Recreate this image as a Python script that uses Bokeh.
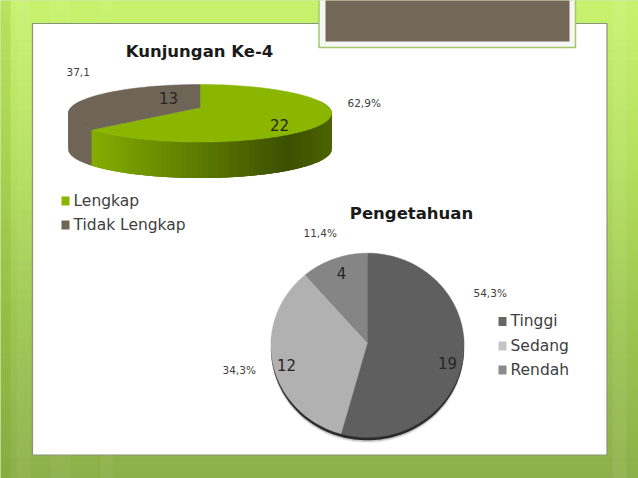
import math
from bokeh.plotting import figure
from bokeh.models import Range1d
from bokeh.core.properties import value
from bokeh.embed import file_html
from bokeh.resources import INLINE

# ---- data ----
title_1 = "Kunjungan Ke-4"
cats_1 = ["Lengkap", "Tidak Lengkap"]
vals_1 = [22, 13]
pct_1 = ["62,9%", "37,1"]

title_2 = "Pengetahuan"
cats_2 = ["Tinggi", "Sedang", "Rendah"]
vals_2 = [19, 12, 4]
pct_2 = ["54,3%", "34,3%", "11,4%"]

# ---- style / layout ----
FONT = "DejaVu Sans"
colors_1 = ["#8ab600", "#6f6557"]
colors_2 = ["#5f5f5f", "#b1b1b1", "#858585"]
legend_colors_2 = ["#666666", "#c4c4c4", "#8a8a8a"]


def mix(a, b, t):
    pa = [int(a[i:i + 2], 16) for i in (1, 3, 5)]
    pb = [int(b[i:i + 2], 16) for i in (1, 3, 5)]
    return "#%02x%02x%02x" % tuple(round(x + (y - x) * t) for x, y in zip(pa, pb))


p = figure(width=638, height=478, output_backend="svg", toolbar_location=None,
           x_range=Range1d(0, 638), y_range=Range1d(478, 0),
           min_border=0, outline_line_color=None)
p.axis.visible = False
p.grid.visible = False
p.background_fill_color = "#a8d05a"
p.border_fill_color = None

# slide background
n = 48
top = [i * 478 / n for i in range(n)]
bot = [t + 478 / n + 0.5 for t in top]
stops = ["#c8f26e", "#b4e05e", "#9cc650", "#8eb04a"]


def bg(t):
    t = t * 3
    i = min(int(t), 2)
    return mix(stops[i], stops[i + 1], t - i)


p.quad(left=0, right=638, top=top, bottom=bot,
       fill_color=[bg(i / (n - 1)) for i in range(n)], line_color=None)
p.quad(left=[16, 612, 50, 100], right=[30, 626, 70, 112], top=0, bottom=478,
       fill_color="#ffffff", fill_alpha=[0.06, 0.07, 0.04, 0.04], line_color=None)
p.quad(left=[0], right=[10], top=0, bottom=478, fill_color="#6f9a20", fill_alpha=0.18, line_color=None)

# white panel and header box
p.quad(left=32, right=606.5, top=23, bottom=454.5, fill_color="#ffffff",
       line_color="#8a9478", line_width=1.2)
p.quad(left=318.5, right=575, top=-2, bottom=47, fill_color="#f6f6f4",
       line_color="#a4c86a", line_width=1.5)
p.quad(left=325, right=569, top=-2, bottom=41, fill_color="#736858", line_color=None)


def project(theta, cx, cy, R, a, k):
    u, v = math.sin(theta), math.cos(theta)
    w = 1 + k * v
    return cx + R * u / w, cy - a * v / w


def slices(vals):
    total = sum(vals)
    acc, out = 0, []
    for v in vals:
        out.append((acc / total * 2 * math.pi, (acc + v) / total * 2 * math.pi))
        acc += v
    return out


# --- 3D pie ---
C1 = dict(cx=199.5, cy=107, R=129, a=27.6, k=0.2)
DEPTH = 36
sl = slices(vals_1)
split = sl[0][1]


def side_color(x):
    t = (x - 91) / (331 - 91)
    if t < 0.82:
        return mix("#84ae00", "#3c4f00", t / 0.82)
    return mix("#3c4f00", "#4c6400", (t - 0.82) / 0.18)


def rim_strip(t0, t1, parts=4):
    pts = [project(t0 + (t1 - t0) * j / parts, **C1) for j in range(parts + 1)]
    return ([q[0] for q in pts] + [q[0] for q in reversed(pts)],
            [q[1] for q in pts] + [q[1] + DEPTH for q in reversed(pts)])


lo, hi = math.radians(75), math.radians(285)

# grey rim first: overlapping strips, starting a little under the green rim
xs, ys = [], []
steps = 30
g0 = split - 0.05
for i in range(steps):
    t0 = g0 + (hi - g0) * i / steps
    t1 = min(hi, g0 + (hi - g0) * (i + 2) / steps)
    sx, sy = rim_strip(t0, t1)
    xs.append(sx)
    ys.append(sy)
p.patches(xs, ys, fill_color=colors_1[1], line_color=None)

# green rim as overlapping strips, each running under the ones drawn after it
xs, ys, cs = [], [], []
steps = 80
for i in range(steps):
    t0 = lo + (split - lo) * i / steps
    t1 = min(split, lo + (split - lo) * (i + 3) / steps)
    sx, sy = rim_strip(t0, t1)
    xs.append(sx)
    ys.append(sy)
    cs.append(side_color(project(lo + (split - lo) * (i + 0.5) / steps, **C1)[0]))
p.patches(xs, ys, fill_color=cs, line_color=None)

for (a0, a1), c in zip(sl, colors_1):
    m = 80
    th = [a0 + (a1 - a0) * i / m for i in range(m + 1)]
    pts = [project(t, **C1) for t in th]
    p.patch([C1["cx"]] + [q[0] for q in pts], [C1["cy"]] + [q[1] for q in pts],
            fill_color=c, line_color=c, line_width=0.5)

# --- flat pie with thin rim ---
C2 = dict(cx=367, cy=342, R=96.5, a=92, k=0.03)
circle = [project(2 * math.pi * i / 180, **C2) for i in range(180)]
for off, col, alpha in [(5.5, "#000000", 0.08), (4.5, "#000000", 0.14), (3, "#2a2a2a", 1.0)]:
    p.patch([q[0] for q in circle], [q[1] + off for q in circle],
            fill_color=col, fill_alpha=alpha, line_color=None)
for (a0, a1), c in zip(slices(vals_2), colors_2):
    m = 80
    th = [a0 + (a1 - a0) * i / m for i in range(m + 1)]
    pts = [project(t, **C2) for t in th]
    p.patch([C2["cx"]] + [q[0] for q in pts], [C2["cy"]] + [q[1] for q in pts],
            fill_color=c, line_color=c, line_width=0.5)


def label(x, y, txt, size, align="left", style="normal", color="#262626"):
    p.text([x], [y], text=[txt], text_font=value(FONT), text_font_size=size,
           text_font_style=style, text_align=align, text_baseline="middle",
           text_color=color)


# titles
label(199, 51, title_1, "16.5px", "center", "bold", "#1a1a1a")
label(411, 213, title_2, "16.5px", "center", "bold", "#1a1a1a")

# percentages
S = "10.5px"
label(347, 102, pct_1[0], S, color="#404040")
label(66, 71, pct_1[1], S, color="#404040")
label(473, 292, pct_2[0], S, color="#404040")
label(222, 369, pct_2[1], S, color="#404040")
label(303, 232, pct_2[2], S, color="#404040")

# slice values
V = "15px"
label(279, 124, str(vals_1[0]), V, "center")
label(168, 97, str(vals_1[1]), V, "center")
label(447, 362, str(vals_2[0]), V, "center")
label(286, 364, str(vals_2[1]), V, "center")
label(341, 272, str(vals_2[2]), V, "center")

# legends
for cat, col, yc in zip(cats_1, colors_1, [200.5, 224.5]):
    p.quad(left=61, right=69, top=yc - 4.5, bottom=yc + 4.5, fill_color=col, line_color=None)
    label(73, yc, cat, "15.5px", color="#404040")
for cat, col, yc in zip(cats_2, legend_colors_2, [321, 345.5, 369.5]):
    p.quad(left=498, right=506, top=yc - 4.5, bottom=yc + 4.5, fill_color=col, line_color=None)
    label(510, yc - 0.5, cat, "15.5px", color="#404040")

open("out.html", "w").write(file_html(p, INLINE))
